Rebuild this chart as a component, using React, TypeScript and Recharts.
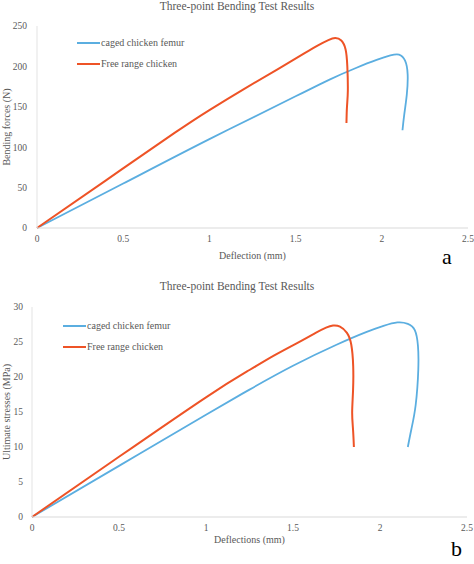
import React from 'react';
import { LineChart, Line, XAxis, YAxis, Legend } from 'recharts';

// Deflection (mm) vs. load / stress for the two femur groups.
const cagedForce = [
  { x: 0, y: 0 },
  { x: 0.5, y: 55 },
  { x: 1.0, y: 110 },
  { x: 1.5, y: 163 },
  { x: 1.7, y: 184 },
  { x: 1.85, y: 198 },
  { x: 1.97, y: 208 },
  { x: 2.05, y: 213.5 },
  { x: 2.1, y: 214.5 },
  { x: 2.135, y: 207 },
  { x: 2.15, y: 190 },
  { x: 2.145, y: 165 },
  { x: 2.13, y: 140 },
  { x: 2.12, y: 121 },
];

const freeRangeForce = [
  { x: 0, y: 0 },
  { x: 0.4, y: 59 },
  { x: 0.8, y: 118 },
  { x: 1.0, y: 146 },
  { x: 1.2, y: 172 },
  { x: 1.4, y: 197 },
  { x: 1.55, y: 216 },
  { x: 1.63, y: 226 },
  { x: 1.69, y: 232.5 },
  { x: 1.73, y: 235 },
  { x: 1.765, y: 232 },
  { x: 1.79, y: 221 },
  { x: 1.8, y: 200 },
  { x: 1.803, y: 170 },
  { x: 1.798, y: 150 },
  { x: 1.795, y: 130 },
];

const cagedStress = [
  { x: 0, y: 0 },
  { x: 0.5, y: 7.3 },
  { x: 1.0, y: 14.6 },
  { x: 1.25, y: 18.2 },
  { x: 1.5, y: 21.6 },
  { x: 1.75, y: 24.6 },
  { x: 1.92, y: 26.4 },
  { x: 2.02, y: 27.3 },
  { x: 2.1, y: 27.8 },
  { x: 2.16, y: 27.6 },
  { x: 2.2, y: 26.7 },
  { x: 2.218, y: 24.5 },
  { x: 2.22, y: 21 },
  { x: 2.205, y: 16 },
  { x: 2.18, y: 12.5 },
  { x: 2.16, y: 10 },
];

const freeRangeStress = [
  { x: 0, y: 0 },
  { x: 0.5, y: 8.6 },
  { x: 1.0, y: 17.1 },
  { x: 1.25, y: 21.0 },
  { x: 1.4, y: 23.2 },
  { x: 1.55, y: 25.2 },
  { x: 1.63, y: 26.3 },
  { x: 1.69, y: 27.05 },
  { x: 1.73, y: 27.35 },
  { x: 1.77, y: 27.2 },
  { x: 1.81, y: 26.3 },
  { x: 1.835, y: 24.6 },
  { x: 1.846, y: 21.5 },
  { x: 1.845, y: 18 },
  { x: 1.84, y: 14.9 },
  { x: 1.845, y: 12.5 },
  { x: 1.85, y: 10 },
];

const deflectionTicks = [0, 0.5, 1, 1.5, 2, 2.5];
const forceTicks = [0, 50, 100, 150, 200, 250];
const stressTicks = [0, 5, 10, 15, 20, 25, 30];

const CAGED = 'caged chicken femur';
const FREE = 'Free range chicken';
const BLUE = '#5BAEE0';
const RED = '#EE5326';
const seriesOrder = [CAGED, FREE];

const FONT = '"Liberation Serif", "Times New Roman", serif';
const GREY = '#595959';
const tickStyle = { fontSize: 9.5, fill: GREY, fontFamily: FONT, style: { fontFamily: FONT } };
const labelStyle = { fontSize: 10, fill: GREY, fontFamily: FONT, textAnchor: 'middle' as const };

function SeriesLegend({ payload }: { payload?: Array<{ value: string; color: string }> }) {
  const items = [...(payload ?? [])].sort(
    (a, b) => seriesOrder.indexOf(a.value) - seriesOrder.indexOf(b.value),
  );
  return (
    <div style={{ fontFamily: FONT, fontSize: 10, color: GREY }}>
      {items.map((it) => (
        <div key={it.value} style={{ display: 'flex', alignItems: 'center', height: 21 }}>
          <svg width={23} height={4} style={{ marginRight: 1 }}>
            <line x1={0} y1={2} x2={23} y2={2} stroke={it.color} strokeWidth={2} />
          </svg>
          <span style={{ fontFamily: FONT }}>{it.value}</span>
        </div>
      ))}
    </div>
  );
}

const textBase: React.CSSProperties = {
  position: 'absolute',
  fontFamily: FONT,
  lineHeight: 1,
  whiteSpace: 'nowrap',
};

export default function App() {
  return (
    <div style={{ position: 'absolute', left: 0, top: 0, width: 474, height: 564, background: '#fff', fontFamily: FONT }}>
      <div style={{ ...textBase, top: 1, left: 0, width: 474, textAlign: 'center', fontSize: 11.5, color: GREY }}>
        Three-point Bending Test Results
      </div>
      <div style={{ position: 'absolute', left: 0, top: 0 }}>
        <LineChart width={474} height={268} margin={{ top: 26, right: 6, bottom: 0, left: 0 }} style={{ fontFamily: FONT }}>
          <XAxis
            type="number"
            dataKey="x"
            domain={[0, 2.5]}
            ticks={deflectionTicks}
            height={40}
            stroke="#d9d9d9"
            tickLine={false}
            tickSize={0}
            tickMargin={7}
            tick={tickStyle}
            label={{ value: 'Deflection (mm)', position: 'insideBottom', offset: 9, style: labelStyle }}
          />
          <YAxis
            type="number"
            dataKey="y"
            domain={[0, 250]}
            ticks={forceTicks}
            width={37}
            stroke="#e3e3e3"
            tickLine={false}
            tickSize={0}
            tickMargin={10}
            tick={tickStyle}
            label={{ value: 'Bending forces (N)', angle: -90, position: 'insideLeft', offset: 6, style: labelStyle }}
          />
          <Legend
            layout="vertical"
            align="center"
            verticalAlign="middle"
            content={<SeriesLegend />}
            wrapperStyle={{ left: 77, top: 32, width: 200, height: 44 }}
          />
          <Line data={cagedForce} dataKey="y" name={CAGED} type="natural" stroke={BLUE} strokeWidth={1.8} dot={false} isAnimationActive={false} />
          <Line data={freeRangeForce} dataKey="y" name={FREE} type="natural" stroke={RED} strokeWidth={2} dot={false} isAnimationActive={false} />
        </LineChart>
      </div>
      <div style={{ ...textBase, top: 246, left: 442, fontSize: 22, color: '#000' }}>a</div>

      <div style={{ ...textBase, top: 280.5, left: 0, width: 474, textAlign: 'center', fontSize: 11.5, color: GREY }}>
        Three-point Bending Test Results
      </div>
      <div style={{ position: 'absolute', left: 0, top: 280 }}>
        <LineChart width={474} height={284} margin={{ top: 27, right: 7, bottom: 0, left: 0 }} style={{ fontFamily: FONT }}>
          <XAxis
            type="number"
            dataKey="x"
            domain={[0, 2.5]}
            ticks={deflectionTicks}
            height={47}
            stroke="#d9d9d9"
            tickLine={false}
            tickSize={0}
            tickMargin={7}
            tick={tickStyle}
            label={{ value: 'Deflections (mm)', position: 'insideBottom', offset: 21, style: labelStyle }}
          />
          <YAxis
            type="number"
            dataKey="y"
            domain={[0, 30]}
            ticks={stressTicks}
            width={32}
            stroke="#e3e3e3"
            tickLine={false}
            tickSize={0}
            tickMargin={9}
            tick={tickStyle}
            label={{ value: 'Ultimate  stresses (MPa)', angle: -90, position: 'insideLeft', offset: 6, style: { ...labelStyle, whiteSpace: 'pre' } }}
          />
          <Legend
            layout="vertical"
            align="center"
            verticalAlign="middle"
            content={<SeriesLegend />}
            wrapperStyle={{ left: 63, top: 35, width: 200, height: 44 }}
          />
          <Line data={cagedStress} dataKey="y" name={CAGED} type="natural" stroke={BLUE} strokeWidth={1.8} dot={false} isAnimationActive={false} />
          <Line data={freeRangeStress} dataKey="y" name={FREE} type="natural" stroke={RED} strokeWidth={2} dot={false} isAnimationActive={false} />
        </LineChart>
      </div>
      <div style={{ ...textBase, top: 538, left: 451, fontSize: 22, color: '#000' }}>b</div>
    </div>
  );
}
